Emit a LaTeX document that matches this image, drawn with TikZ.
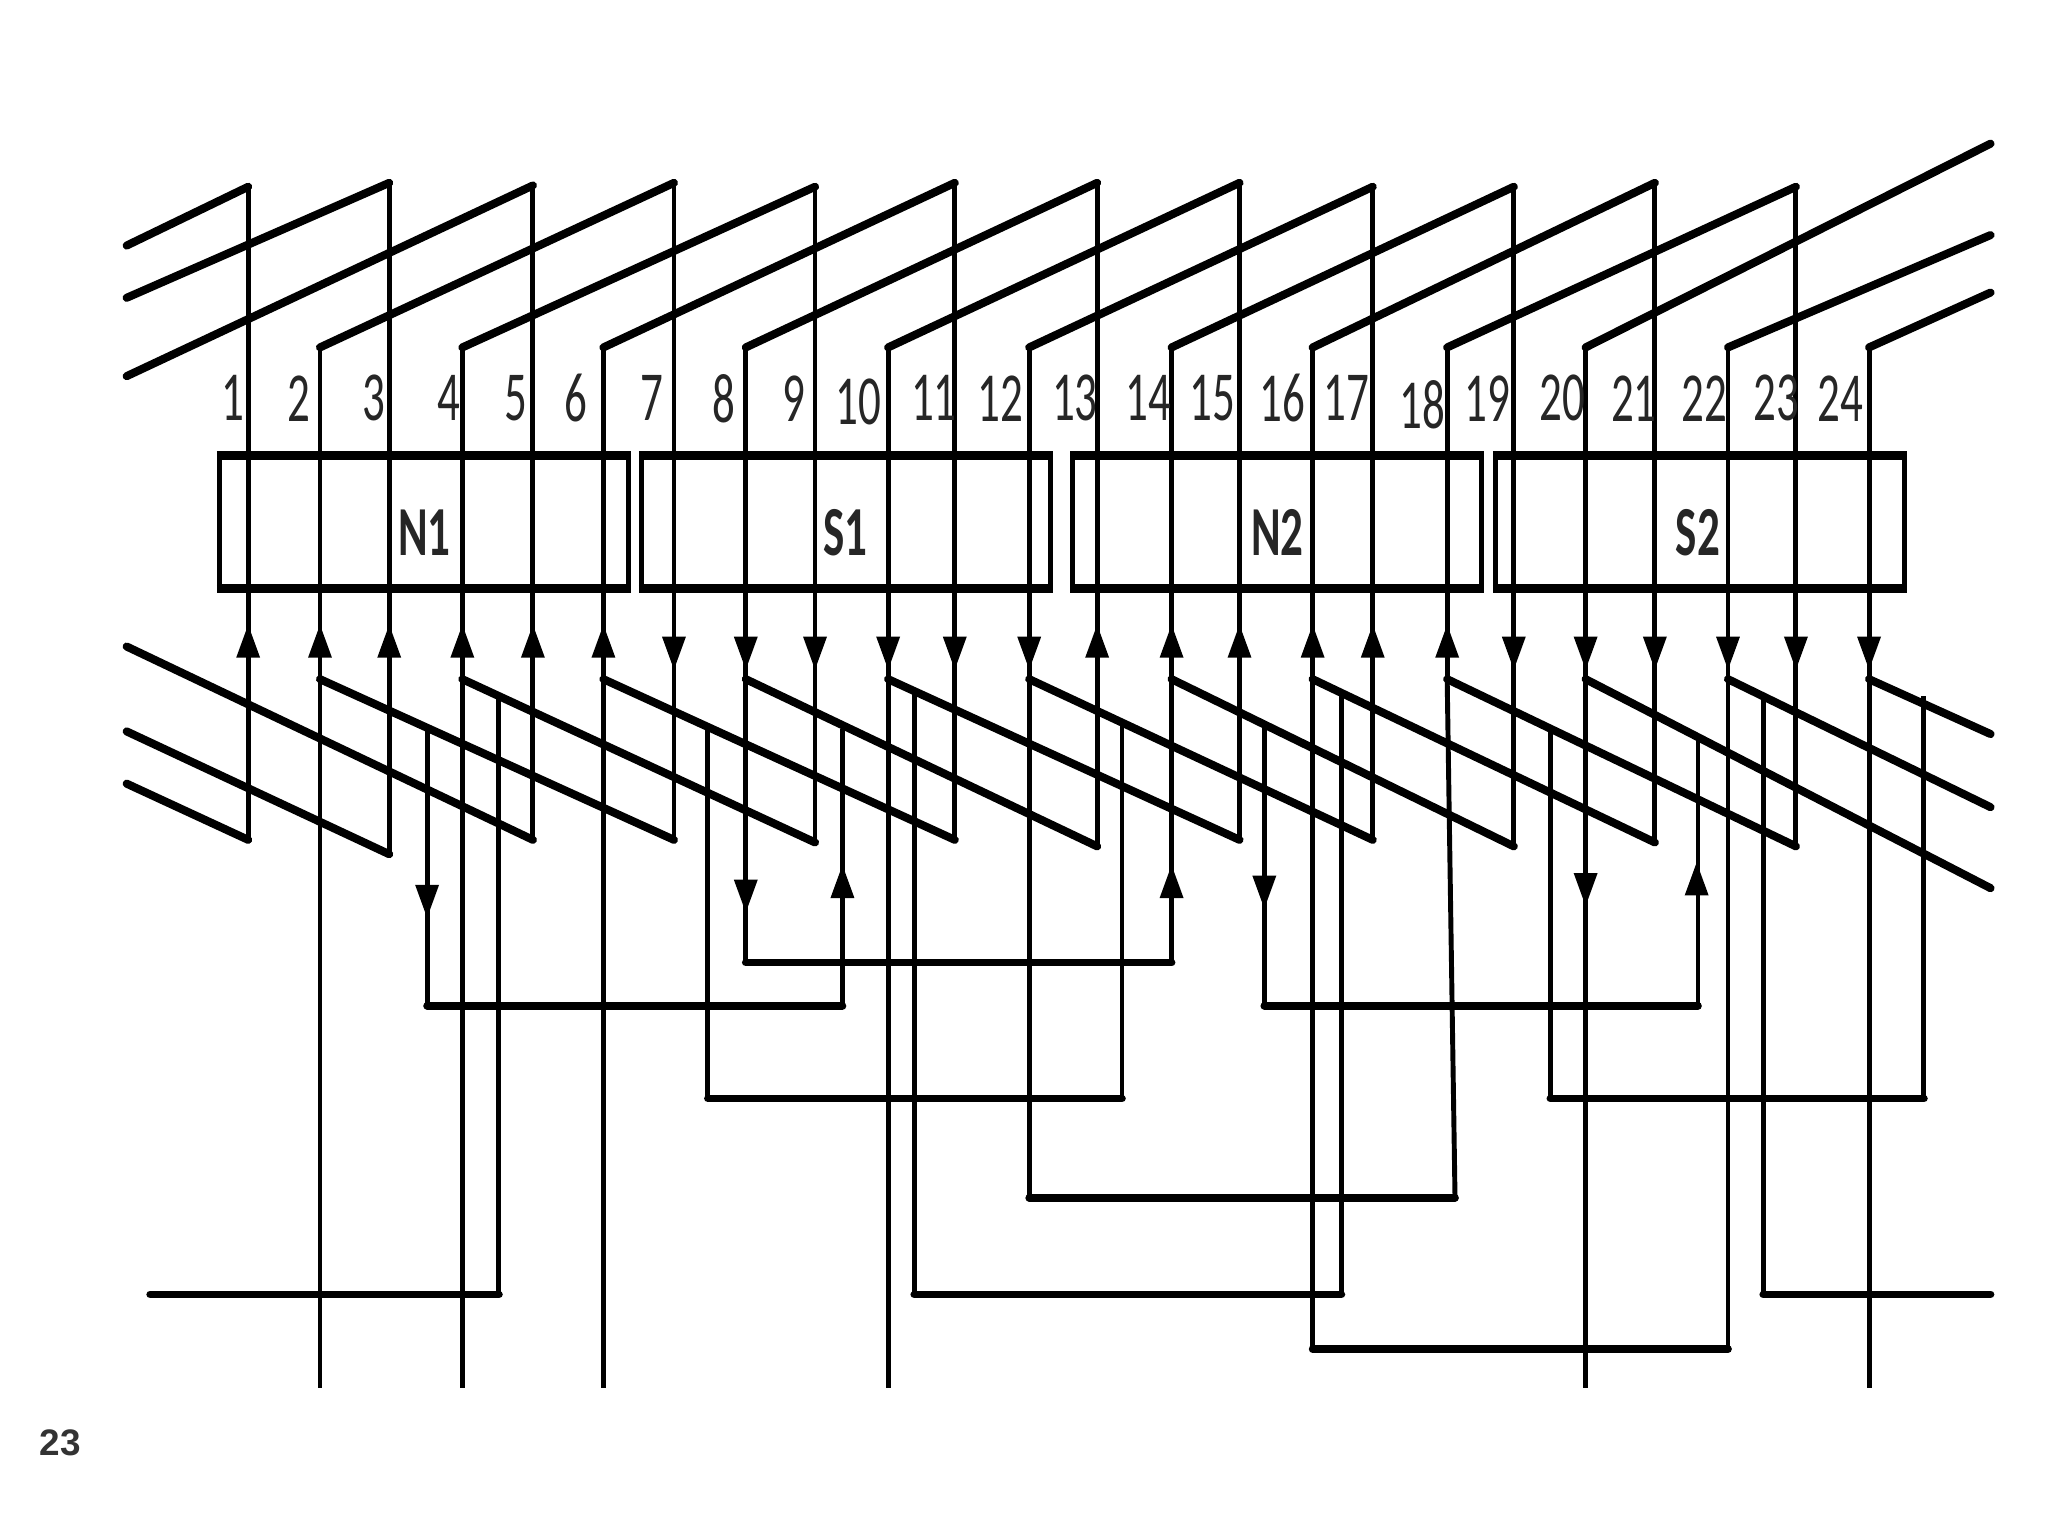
\documentclass[tikz,border=0pt]{standalone}
\usepackage{graphicx}
\usepackage{fontspec}
\setmainfont{Carlito}
\newfontfamily\pagefont{Liberation Sans}
\usetikzlibrary{arrows.meta}

\newcommand{\tallnum}[1]{\scalebox{0.64}[1]{#1}}

\tikzset{
    wire/.style={black, line width=1.4pt},
    slant/.style={black, line width=2.3pt, line cap=round},
    bar/.style={black, line width=2.2pt, line cap=round},
    tip/.style={-{Triangle[length=9.5pt,width=6.4pt]}},
    pole/.style={draw=black, line width=1.4pt, minimum width=4.09cm, minimum height=1.29cm, inner sep=0pt},
    polelabel/.style={font=\fontsize{20}{20}\selectfont\bfseries, text=black!85},
    numlabel/.style={font=\fontsize{20}{20}\selectfont, text=black!85, inner sep=0pt}
}

\begin{document}
\begin{tikzpicture}[x=0.013061cm, y=-0.013061cm]
    \useasboundingbox[fill=white] (0,0) rectangle (1568,1176);

    % rotor poles
    \node[pole] (N1) at (324.5,399.5) {};
    \node[pole] (S1) at (647.5,399.5) {};
    \node[pole] (N2) at (978,399.5) {};
    \node[pole] (S2) at (1301.5,399.5) {};
    \foreach \p in {N1,S1,N2,S2} {
        \draw[black, line width=2.3pt] (\p.north west) -- (\p.north east);
        \draw[black, line width=2.3pt] (\p.south west) -- (\p.south east);
    }
    \node[polelabel] (lN1) at (325,408) {\tallnum{N1}};
    \node[polelabel] (lS1) at (647,408) {\tallnum{S1}};
    \node[polelabel] (lN2) at (978,408) {\tallnum{N2}};
    \node[polelabel] (lS2) at (1300,408) {\tallnum{S2}};

    % conductors: number / x / top / bottom
    \foreach \i/\x/\yt/\yb in {1/190/143/643, 2/245/266/1063, 3/298/140/654, 4/354/266/1063,
        5/408/142/643, 6/462/266/1063, 7/516/140/643, 8/571/266/737,
        9/624/143/645, 10/680/266/1063, 11/731/140/643, 12/788/266/917,
        13/840/140/648, 14/897/266/737, 15/949/140/643, 16/1005/266/1033,
        17/1051/143/643, 18/1108/266/520, 19/1159/143/648, 20/1214/266/1063,
        21/1267/140/645, 22/1323/266/1033, 23/1375/143/648, 24/1431/266/1063} {
        \coordinate (t\i) at (\x,\yt);
        \coordinate (b\i) at (\x,\yb);
        \coordinate (j\i) at (\x,520);
        \draw[wire] (t\i) -- (b\i);
    }
    \coordinate (b18x) at (1114,917);
    \draw[wire] (b18) -- (b18x);

    % free ends
    \coordinate (lt1) at (97,188);
    \coordinate (lt3) at (97,228);
    \coordinate (lt5) at (97,288);
    \coordinate (rt20) at (1524,110);
    \coordinate (rt22) at (1524,180);
    \coordinate (rt24) at (1524,224);
    \coordinate (lb1) at (97,600);
    \coordinate (lb3) at (97,560);
    \coordinate (lb5) at (97,495);
    \coordinate (rb20) at (1524,680);
    \coordinate (rb22) at (1524,618);
    \coordinate (rb24) at (1524,562);

    % end connections
    \foreach \a/\b in {1/lt1, 3/lt3, 5/lt5, 7/t2, 9/t4, 11/t6, 13/t8, 15/t10, 17/t12, 19/t14, 21/t16, 23/t18,
        20/rt20, 22/rt22, 24/rt24}
        \draw[slant] (t\a) -- (\b);
    \foreach \a/\b in {1/lb1, 3/lb3, 5/lb5, 7/j2, 9/j4, 11/j6, 13/j8, 15/j10, 17/j12, 19/j14, 21/j16, 23/j18}
        \draw[slant] (b\a) -- (\b);
    \foreach \a/\b in {20/rb20, 22/rb22, 24/rb24}
        \draw[slant] (j\a) -- (\b);

    % arrows
    \coordinate (upbase) at (0,506);
    \coordinate (uptip) at (0,478);
    \coordinate (dnbase) at (0,485);
    \coordinate (dntip) at (0,513);
    \foreach \i in {1,...,6,13,14,...,18}
        \draw[wire,tip] (t\i |- upbase) -- (t\i |- uptip);
    \foreach \i in {7,...,12,19,20,...,24}
        \draw[wire,tip] (t\i |- dnbase) -- (t\i |- dntip);

    % tappings and jumpers
    \foreach \n/\x/\ya/\xb/\yb/\yc in {A/327/557/645/558/770, B/542/557/859/555/841, C/700/530/1027/530/991,
        D/968/555/1300/566/770, E/1187/558/1473/533/841} {
        \coordinate (\n1) at (\x,\ya);
        \coordinate (\n2) at (\x,\yc);
        \coordinate (\n3) at (\xb,\yc);
        \coordinate (\n4) at (\xb,\yb);
        \draw[wire] (\n1) -- (\n2);
        \draw[wire] (\n4) -- (\n3);
        \draw[bar] (\n2) -- (\n3);
    }
    \draw[bar] (b8) -- (b14);
    \draw[bar] (b12) -- (b18x);
    \draw[bar] (b16) -- (b22);

    \coordinate (in1) at (382,533);
    \coordinate (in2) at (382,991);
    \coordinate (in3) at (115,991);
    \draw[wire] (in1) -- (in2);
    \draw[bar] (in2) -- (in3);
    \coordinate (out1) at (1350,533);
    \coordinate (out2) at (1350,991);
    \coordinate (out3) at (1524,991);
    \draw[wire] (out1) -- (out2);
    \draw[bar] (out2) -- (out3);

    \draw[wire,tip] (327,678) -- (327,703);
    \draw[wire,tip] (571,674) -- (571,699);
    \draw[wire,tip] (645,688) -- (645,662);
    \draw[wire,tip] (897,688) -- (897,662);
    \draw[wire,tip] (968,671) -- (968,696);
    \draw[wire,tip] (1214,669) -- (1214,694);
    \draw[wire,tip] (1299,685) -- (1299,660);

    % slot numbers
    \foreach \i/\x/\y in {1/178/305, 2/229/305, 3/286/305, 4/344/305, 5/395/305, 6/441/305,
        7/499/305, 8/554/305, 9/608/305, 10/657/308, 11/715/305, 12/766/305,
        13/823/305, 14/879/305, 15/928/305, 16/982/305, 17/1031/305, 18/1089/310,
        19/1139/305, 20/1196/305, 21/1251/305, 22/1305/305, 23/1360/305, 24/1409/305}
        \node[numlabel] (n\i) at (\x,\y) {\tallnum{\i}};

    \node[font=\pagefont\bfseries\fontsize{10.5}{12}\selectfont, text=black!80, inner sep=0pt] (page) at (46,1105) {23};
\end{tikzpicture}
\end{document}
